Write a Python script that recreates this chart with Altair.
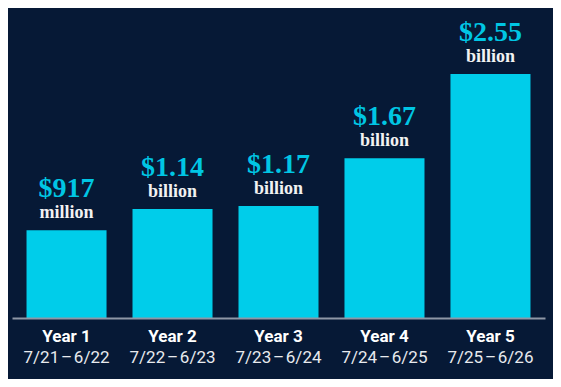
import altair as alt
import pandas as pd

years = ["Year 1", "Year 2", "Year 3", "Year 4", "Year 5"]
periods = ["7/21\u200a\u2013\u200a6/22", "7/22\u200a\u2013\u200a6/23", "7/23\u200a\u2013\u200a6/24",
           "7/24\u200a\u2013\u200a6/25", "7/25\u200a\u2013\u200a6/26"]
values_millions = [917, 1140, 1170, 1670, 2550]
value_labels = ["$917", "$1.14", "$1.17", "$1.67", "$2.55"]
unit_labels = ["million", "billion", "billion", "billion", "billion"]

df = pd.DataFrame({
    "year": years,
    "period": periods,
    "value": values_millions,
    "vlabel": value_labels,
    "unit": unit_labels,
})

W, H = 533, 310
BG = "#061936"
BAR = "#00CDEA"
VAL = "#00C6E4"

xenc = alt.X("year:N", sort=None,
             scale=alt.Scale(paddingInner=0.245, paddingOuter=0.137),
             axis=alt.Axis(title=None, labels=False, ticks=False,
                           domainColor="#8E97A6", domainWidth=2, zindex=1))
yenc = alt.Y("value:Q", scale=alt.Scale(domain=[0, 3240]), axis=None)

base = alt.Chart(df).encode(x=xenc)

bars = base.mark_bar(color=BAR).encode(y=yenc)

vals = base.mark_text(font="Liberation Serif", fontWeight="bold", fontSize=28,
                      dy=-33, baseline="alphabetic", color=VAL).encode(
    y=yenc, text="vlabel:N")

units = base.mark_text(font="Liberation Serif", fontWeight="bold", fontSize=18,
                       dy=-12, baseline="alphabetic", color="#F2F2F2").encode(
    y=yenc, text="unit:N")

year_txt = base.mark_text(font="Roboto", fontWeight="bold", fontSize=17,
                          dy=19, baseline="middle", color="#FFFFFF").encode(
    y=alt.value(H), text="year:N")

period_txt = base.mark_text(font="Roboto", fontSize=17,
                            dy=40, baseline="middle", color="#E8EAEE").encode(
    y=alt.value(H), text="period:N")

chart = alt.layer(bars, vals, units, year_txt, period_txt).properties(
    width=W, height=H,
    background=BG,
    padding={"left": 4, "top": 0, "right": 8, "bottom": 61},
    autosize=alt.AutoSizeParams(type="none"),
).configure_view(stroke=None)

chart.save("out.html", embed_options={"renderer": "svg", "actions": False})
